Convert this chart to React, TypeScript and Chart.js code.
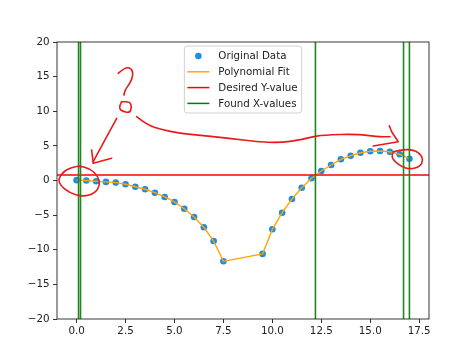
import React, { useEffect, useRef } from "react";
import { Chart, registerables } from "chart.js";

Chart.register(...registerables);

// ---- data ----
const xValues = [
  0, 0.5, 1, 1.5, 2, 2.5, 3, 3.5, 4, 4.5, 5, 5.5, 6, 6.5, 7, 7.5,
  9.5, 10, 10.5, 11, 11.5, 12, 12.5, 13, 13.5, 14, 14.5, 15, 15.5, 16, 16.5, 17,
];
const yValues = [
  0.05, 0.0, -0.1, -0.2, -0.3, -0.55, -0.9, -1.27, -1.76, -2.38, -3.1, -4.07, -5.27, -6.76, -8.74, -11.67,
  -10.6, -7.05, -4.65, -2.67, -1.04, 0.32, 1.37, 2.24, 3.06, 3.58, 4.01, 4.22, 4.26, 4.16, 3.78, 3.15,
];
const fitValues = [
  0.05, 0.0, -0.1, -0.2, -0.3, -0.55, -0.9, -1.27, -1.76, -2.38, -3.1, -4.07, -5.27, -6.76, -8.74, -11.67,
  -10.6, -7.05, -4.65, -2.67, -1.04, 0.32, 1.37, 2.24, 3.06, 3.58, 4.01, 4.22, 4.26, 4.16, 3.78, 3.15,
];
const desiredY = 0.8;
const foundX = [0.1, 0.2, 12.2, 16.7, 17.0];

const xTicks = [0, 2.5, 5, 7.5, 10, 12.5, 15, 17.5];
const yTicks = [-20, -15, -10, -5, 0, 5, 10, 15, 20];
const X_MIN = -1;
const X_MAX = 18;
const Y_MIN = -20;
const Y_MAX = 20;

const legendLabels = ["Original Data", "Polynomial Fit", "Desired Y-value", "Found X-values"];

// hand-drawn red annotations (data units)
const qMark = [[2.13, 15.48], [2.47, 16.35], [2.81, 16.2], [2.9, 15.23], [2.73, 14.04], [2.47, 13.07], [2.42, 12.35]];
const qDot = [[2.3, 11.38], [2.13, 10.43], [2.39, 9.94], [2.73, 9.79], [2.81, 10.66], [2.73, 11.38], [2.3, 11.38]];
const leftArrowShaft = [[2.05, 8.98], [1.45, 5.85], [0.85, 2.72]];
const leftArrowHead = [[0.77, 4.4], [0.85, 2.48], [1.79, 3.2]];
const longCurve = [
  [3.07, 9.21], [3.58, 8.01], [4.43, 7.29], [5.28, 6.82], [6.13, 6.57], [7.83, 6.09], [9.2, 5.6],
  [10.39, 5.46], [11.41, 5.85], [11.92, 6.24], [12.6, 6.57], [14.31, 6.71], [15.33, 6.32], [16.01, 6.32],
];
const rightArrowHead = [[15.97, 7.91], [16.1, 7.0], [16.43, 5.6], [15.15, 4.98]];
const leftEllipse = [
  [0.17, 2.09], [0.68, 1.76], [1.11, 0.55], [1.2, -0.65], [0.94, -1.85], [0.34, -2.34], [-0.34, -1.85],
  [-0.85, -0.65], [-0.93, 0.32], [-0.59, 1.52], [0.01, 2.09], [0.26, 1.99],
];
const rightEllipse = [
  [16.17, 4.16], [16.52, 4.4], [17.11, 4.51], [17.54, 3.93], [17.71, 2.96], [17.54, 1.99], [17.03, 1.62],
  [16.6, 1.99], [16.26, 2.71], [16.09, 3.44], [16.17, 4.16], [16.4, 4.3],
];
const scribbles = [qMark, qDot, leftArrowShaft, leftArrowHead, longCurve, rightArrowHead, leftEllipse, rightEllipse];

const FONT = "'DejaVu Sans', sans-serif";
const FONT_SIZE = 10.3;
const TEXT_COLOR = "#222";
const BLUE = "#1e8ce6";

const framePlugin = {
  id: "frame",
  afterDatasetsDraw(chart: any) {
    const { ctx, chartArea: a } = chart;
    ctx.save();
    ctx.strokeStyle = "#222";
    ctx.lineWidth = 0.9;
    ctx.strokeRect(a.left, a.top, a.right - a.left, a.bottom - a.top);
    ctx.restore();
  },
};

const legendPlugin = {
  id: "mplLegend",
  afterDraw(chart: any) {
    const { ctx, chartArea: a } = chart;
    ctx.save();
    ctx.font = `${FONT_SIZE}px ${FONT}`;
    const textW = Math.max(...legendLabels.map((l) => ctx.measureText(l).width));
    const pad = 3, handleW = 22, gap = 9, rowH = 15.8;
    const w = pad + handleW + gap + textW + 4;
    const h = 67;
    const left = (a.left + a.right) / 2 - w / 2;
    const top = a.top + 4;
    ctx.beginPath();
    (ctx as any).roundRect(left, top, w, h, 3);
    ctx.fillStyle = "rgba(255,255,255,0.85)";
    ctx.fill();
    ctx.strokeStyle = "#d0d0d0";
    ctx.lineWidth = 1;
    ctx.stroke();
    const colors = [BLUE, "orange", "red", "green"];
    legendLabels.forEach((label, i) => {
      const y = top + 10 + i * rowH;
      const hx = left + pad;
      if (i === 0) {
        ctx.beginPath();
        ctx.arc(hx + handleW / 2, y, 3.3, 0, Math.PI * 2);
        ctx.fillStyle = colors[i];
        ctx.fill();
      } else {
        ctx.beginPath();
        ctx.moveTo(hx, y);
        ctx.lineTo(hx + handleW, y);
        ctx.strokeStyle = colors[i];
        ctx.lineWidth = 1.5;
        ctx.stroke();
      }
      ctx.fillStyle = TEXT_COLOR;
      ctx.textBaseline = "middle";
      ctx.textAlign = "left";
      ctx.fillText(label, hx + handleW + gap, y + 0.5);
    });
    ctx.restore();
  },
};

const scribblePlugin = {
  id: "scribbles",
  afterDraw(chart: any) {
    const { ctx } = chart;
    const xs = chart.scales.x;
    const ys = chart.scales.y;
    ctx.save();
    ctx.strokeStyle = "rgb(235,25,25)";
    ctx.lineWidth = 1.6;
    ctx.lineJoin = "round";
    ctx.lineCap = "round";
    scribbles.forEach((path) => {
      const pts = path.map(([x, y]) => ({ x: xs.getPixelForValue(x), y: ys.getPixelForValue(y) }));
      ctx.beginPath();
      ctx.moveTo(pts[0].x, pts[0].y);
      if (pts.length <= 4) {
        for (let i = 1; i < pts.length; i++) ctx.lineTo(pts[i].x, pts[i].y);
      } else {
        for (let i = 1; i < pts.length - 1; i++) {
          const mx = (pts[i].x + pts[i + 1].x) / 2;
          const my = (pts[i].y + pts[i + 1].y) / 2;
          ctx.quadraticCurveTo(pts[i].x, pts[i].y, mx, my);
        }
        const last = pts[pts.length - 1];
        ctx.lineTo(last.x, last.y);
      }
      ctx.stroke();
    });
    ctx.restore();
  },
};

const tickFont = { family: FONT, size: FONT_SIZE };

export default function App() {
  const canvasRef = useRef<HTMLCanvasElement | null>(null);

  useEffect(() => {
    const canvas = canvasRef.current;
    if (!canvas) return;

    const foundDatasets = foundX.map((fx) => ({
      label: "Found X-values",
      data: [{ x: fx, y: Y_MIN }, { x: fx, y: Y_MAX }],
      showLine: true,
      borderColor: "#1f871f",
      borderWidth: 1.6,
      pointRadius: 0,
      order: 0,
    }));

    const chart = new Chart(canvas, {
      type: "scatter",
      data: {
        datasets: [
          ...foundDatasets,
          {
            label: "Desired Y-value",
            data: [{ x: X_MIN, y: desiredY }, { x: X_MAX, y: desiredY }],
            showLine: true,
            borderColor: "red",
            borderWidth: 1.5,
            pointRadius: 0,
            order: 1,
          },
          {
            label: "Polynomial Fit",
            data: xValues.map((x, i) => ({ x, y: fitValues[i] })),
            showLine: true,
            borderColor: "orange",
            borderWidth: 1.4,
            pointRadius: 0,
            tension: 0,
            order: 2,
          },
          {
            label: "Original Data",
            data: xValues.map((x, i) => ({ x, y: yValues[i] })),
            backgroundColor: BLUE,
            borderWidth: 0,
            pointRadius: 3.3,
            order: 3,
          },
        ] as any,
      },
      options: {
        animation: false,
        responsive: false,
        maintainAspectRatio: false,
        layout: { padding: { left: 0, top: 42, right: 45, bottom: 0 } },
        plugins: {
          legend: { display: false },
          tooltip: { enabled: false },
        },
        scales: {
          x: {
            type: "linear",
            min: X_MIN,
            max: X_MAX,
            afterBuildTicks: (s: any) => {
              s.ticks = xTicks.map((v) => ({ value: v }));
            },
            afterFit: (s: any) => {
              s.height = 34;
            },
            ticks: {
              autoSkip: false,
              maxRotation: 0,
              font: tickFont,
              color: TEXT_COLOR,
              padding: 2,
              callback: (v: any) => Number(v).toFixed(1),
            },
            grid: {
              drawOnChartArea: false,
              drawTicks: true,
              tickLength: 4,
              tickColor: "#333",
              tickWidth: 1,
            },
            border: { display: false },
          },
          y: {
            type: "linear",
            min: Y_MIN,
            max: Y_MAX,
            afterBuildTicks: (s: any) => {
              s.ticks = yTicks.map((v) => ({ value: v }));
            },
            afterFit: (s: any) => {
              s.width = 57;
            },
            ticks: {
              autoSkip: false,
              font: tickFont,
              color: TEXT_COLOR,
              padding: 3.5,
              callback: (v: any) => (Number(v) < 0 ? "\u2212" + Math.abs(Number(v)) : String(v)),
            },
            grid: {
              drawOnChartArea: false,
              drawTicks: true,
              tickLength: 4,
              tickColor: "#333",
              tickWidth: 1,
            },
            border: { display: false },
          },
        },
      } as any,
      plugins: [framePlugin, legendPlugin, scribblePlugin],
    });

    return () => chart.destroy();
  }, []);

  return (
    <div style={{ position: "absolute", left: 0, top: 0, width: 474, height: 353, background: "#fff" }}>
      <canvas ref={canvasRef} width={474} height={353} style={{ display: "block", width: 474, height: 353 }} />
    </div>
  );
}
